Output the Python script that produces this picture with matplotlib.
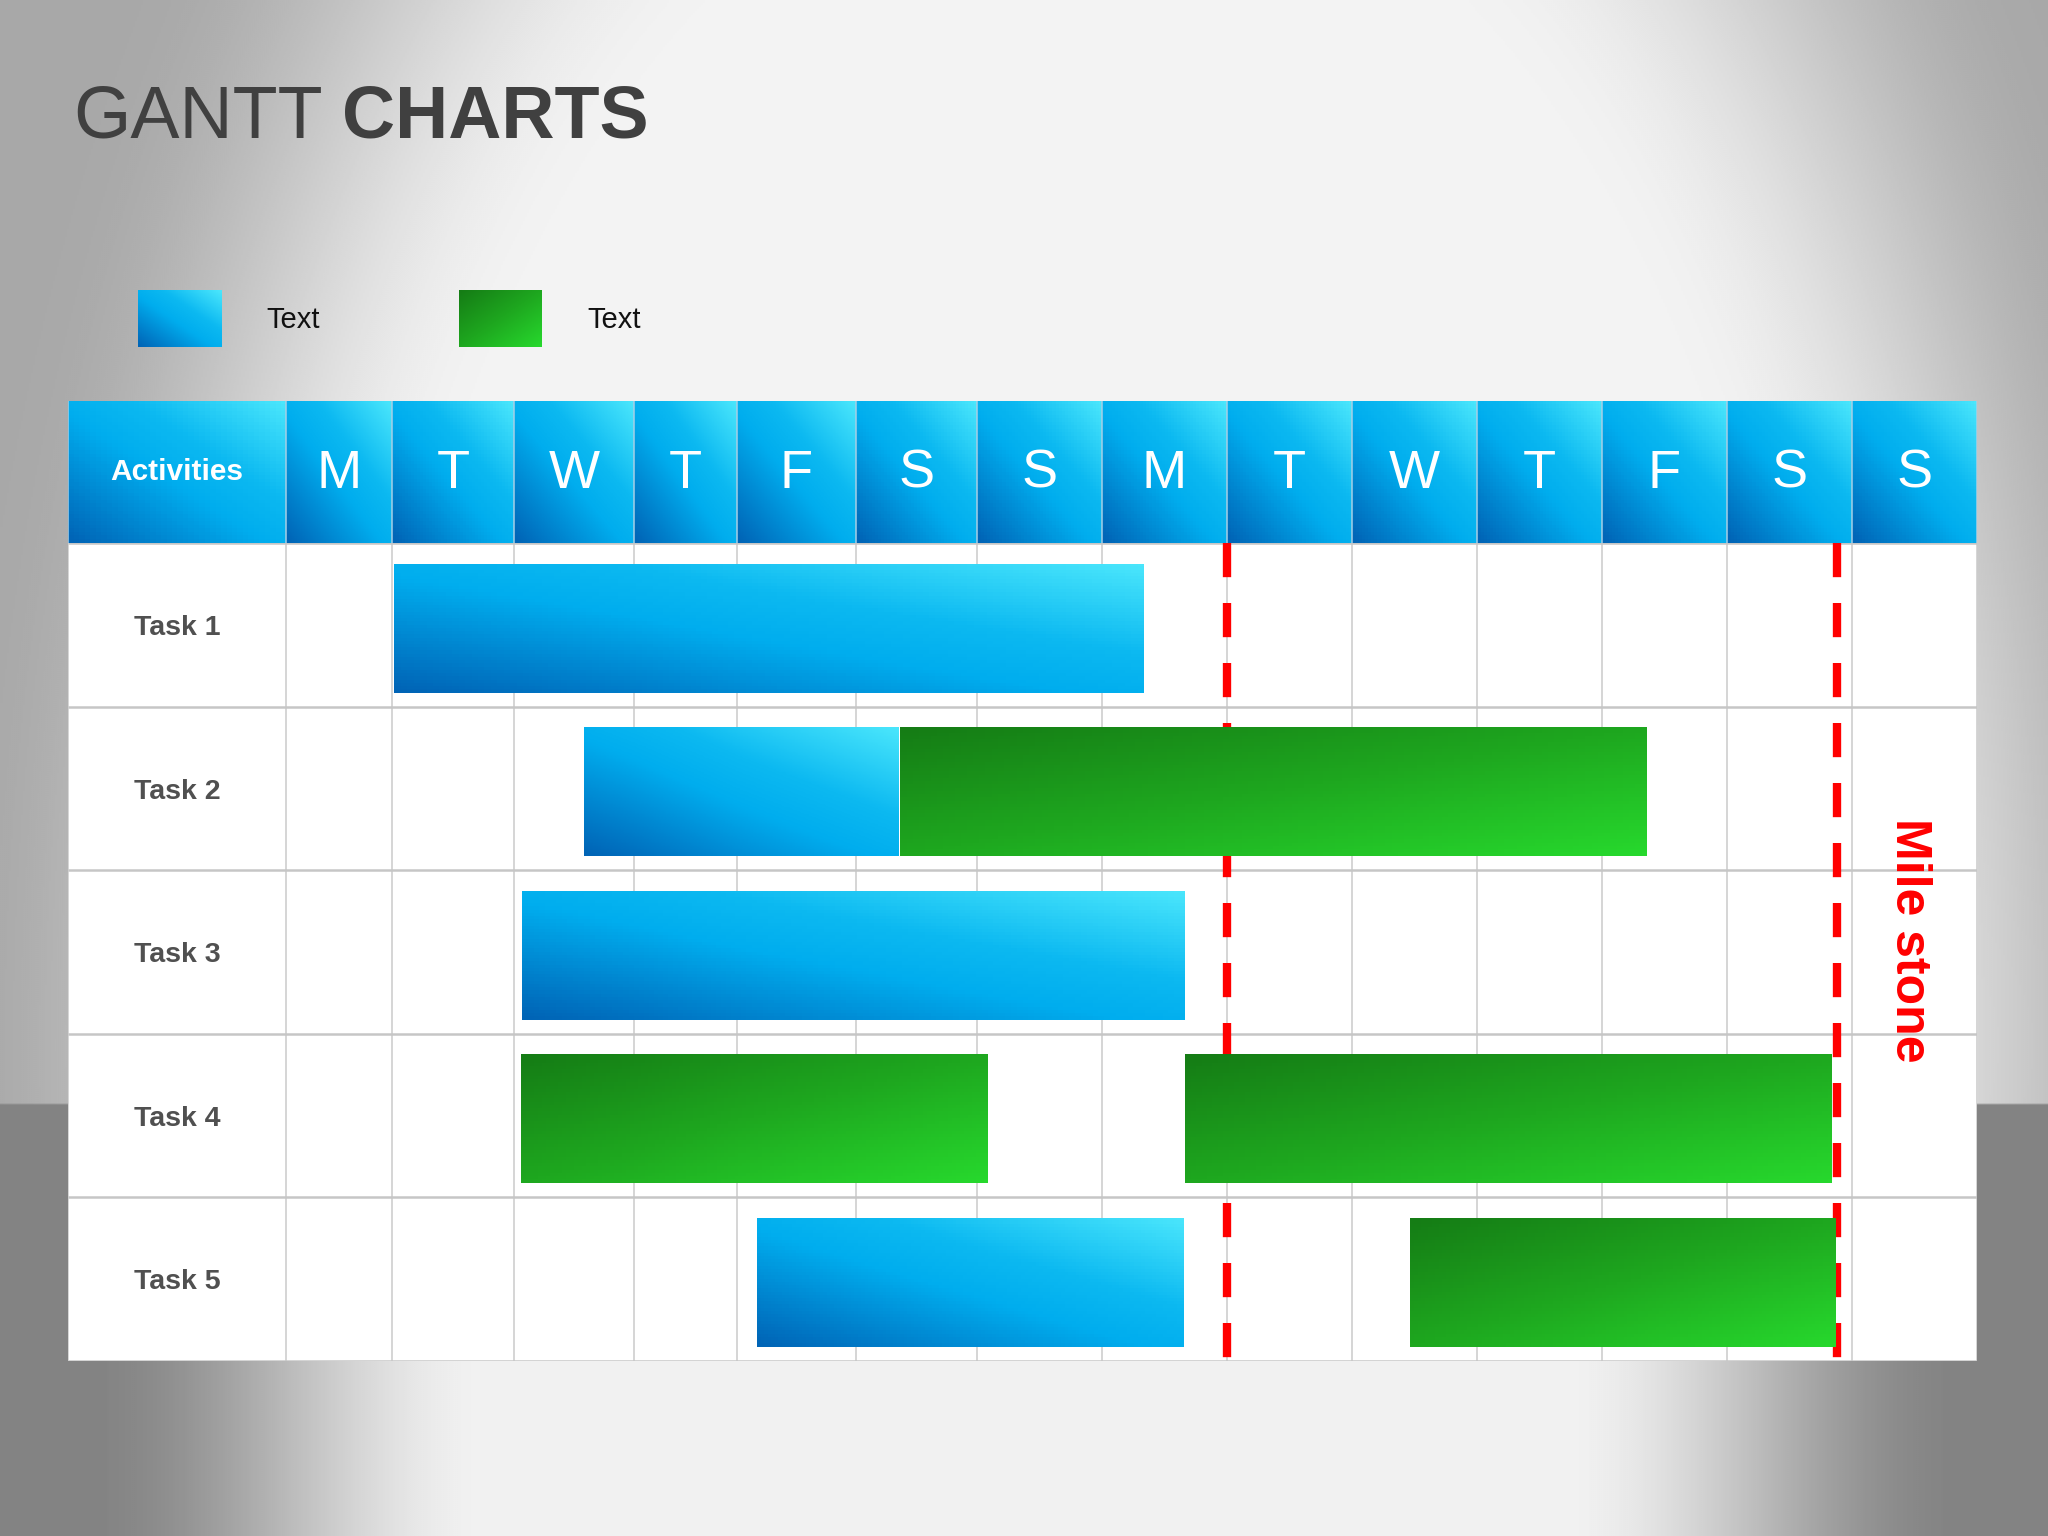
import numpy as np
import matplotlib
matplotlib.use('Agg')
import matplotlib.pyplot as plt
from matplotlib import font_manager
from matplotlib.colors import LinearSegmentedColormap

# ---- data ----
days = ['M', 'T', 'W', 'T', 'F', 'S', 'S', 'M', 'T', 'W', 'T', 'F', 'S', 'S']
tasks = ['Task 1', 'Task 2', 'Task 3', 'Task 4', 'Task 5']
blue_task = [0, 1, 2, 4]
blue_start = [1.02, 2.58, 2.07, 4.17]
blue_end = [7.34, 5.36, 7.67, 7.66]
green_task = [1, 3, 3, 4]
green_start = [5.36, 2.06, 7.66, 9.46]
green_end = [11.36, 6.09, 12.84, 12.87]
milestones = [8.0, 12.88]
legend_labels = ['Text', 'Text']

# ---- layout (pixels of the 2048x1536 slide) ----
W, H = 2048, 1536
col_px = [68, 286, 392, 514, 634, 737, 856, 977, 1102, 1227, 1352, 1477, 1602, 1727, 1852, 1977]
col_x = np.arange(-1, len(days) + 1)          # data position of each column edge
top_px, head_px, bot_px = 401, 543, 1361
row_h = (bot_px - head_px) / len(tasks)
head_h = (head_px - top_px) / row_h

names = {f.name for f in font_manager.fontManager.ttflist}
SANS = 'Liberation Sans'
NARROW = 'Liberation Sans Narrow' if 'Liberation Sans Narrow' in names else SANS
narrow = NARROW != SANS
# font sizes (narrow face, regular fallback)
fs_day = 43 if narrow else 39
fs_act = 26 if narrow else 21.5
fs_task = 23 if narrow else 20.5
fs_mile = 44 if narrow else 36

blue_cm = LinearSegmentedColormap.from_list(
    'blue', [(0, '#0064b6'), (0.45, '#00adee'), (0.65, '#0cb9f1'), (1, '#4ae6fc')])
green_cm = LinearSegmentedColormap.from_list(
    'green', [(0, '#157c15'), (0.5, '#1ea71f'), (1, '#27d82d')])


def grad(kind, nx=120, ny=40):
    u = np.linspace(0, 1, nx)[None, :]
    v = np.linspace(0, 1, ny)[:, None]          # row 0 = bottom
    return (u + v) / 2 if kind == 'blue' else (u + (1 - v)) / 2


def smooth(t):
    t = np.clip(t, 0, 1)
    return t * t * (3 - 2 * t)


fig = plt.figure(figsize=(W / 100, H / 100), dpi=100)

# ---- background slide ----
bg = fig.add_axes([0, 0, 1, 1])
bg.set_xlim(0, W); bg.set_ylim(H, 0); bg.axis('off')
ys, xs = np.mgrid[0:H:2, 0:W:2]
xn, yn = xs / W, ys / H
r = np.hypot((xn - 0.53) / 0.41, (yn - 0.68) / 0.925)
wall = 0.95 - 0.29 * smooth((r - 0.85) / 0.5)
floor = 0.945 - 0.43 * smooth((np.abs(xn - 0.5) / 0.5 - 0.52) / 0.4)
bg.imshow(np.where(yn < 1103 / H, wall, floor), cmap='gray', vmin=0, vmax=1,
          extent=(0, W, H, 0), aspect='auto', interpolation='bilinear')

# title
t1 = bg.text(73, 138, 'GANTT', fontsize=53, color='#404040', family=SANS, va='baseline')
bg.annotate('CHARTS', xy=(1, 0), xycoords=t1, xytext=(14, 0), textcoords='offset points',
            fontsize=53, color='#404040', family=SANS, fontweight='bold', va='bottom')

# legend
for (x0, x1), kind, lab, tx in zip([(138, 222), (459, 542)], ['blue', 'green'],
                                   legend_labels, [266, 587]):
    bg.imshow(grad(kind, 40, 40), cmap=blue_cm if kind == 'blue' else green_cm,
              extent=(x0, x1, 347, 290), origin='lower', aspect='auto', zorder=2)
    bg.text(tx, 320, lab, fontsize=21, color='#111111', family=SANS, va='center')
bg.set_xlim(0, W); bg.set_ylim(H, 0)

# ---- table ----
ax = fig.add_axes([col_px[0] / W, 1 - bot_px / H, (col_px[-1] - col_px[0]) / W,
                   (bot_px - top_px) / H])
ax.set_xscale('function', functions=(lambda x: np.interp(x, col_x, col_px),
                                      lambda p: np.interp(p, col_px, col_x)))
ax.set_facecolor('white')
for s in ax.spines.values():
    s.set_visible(False)
ax.set_xticks([]); ax.set_yticks([])

# grid
ax.vlines(col_x, 0, len(tasks), colors='#cacaca', lw=1.1, zorder=1)
ax.hlines(np.arange(len(tasks) + 1), col_x[0], col_x[-1], colors='#c6c6c6', lw=1.8, zorder=1)

# header cells
for i in range(len(col_x) - 1):
    ax.imshow(grad('blue', 40, 40), cmap=blue_cm, origin='lower', aspect='auto',
              extent=(col_x[i], col_x[i + 1], 0, -head_h), zorder=2)
ax.vlines(col_x, -head_h, 0, colors='#a6cfe6', lw=1.1, zorder=2.5)
ax.text(-0.5, -head_h / 2, 'Activities', color='white', fontsize=fs_act, family=NARROW,
        fontweight='bold', ha='center', va='center', zorder=5)
for i, dname in enumerate(days):
    ax.text(i + 0.5, -head_h / 2 + 0.01, dname, color='white', fontsize=fs_day, family=NARROW,
            ha='center', va='center', zorder=5)

# task labels
for i, name in enumerate(tasks):
    ax.text(-0.5, i + 0.52, name, color='#505050', fontsize=fs_task, family=NARROW,
            fontweight='bold', ha='center', va='center', zorder=5)

# milestones (behind bars)
ax.vlines(milestones, 0, len(tasks), colors='#ff0000', lw=6, zorder=3,
          linestyles=[(0, (4.1, 3.1))])
ax.text(13.46, 2.43, 'Mile stone', color='#ff0000', fontsize=fs_mile, family=NARROW,
        fontweight='bold', rotation=-90, ha='center', va='center', zorder=5)

# bars with gradient fill
for kind, tk, st, en, cm in [('blue', blue_task, blue_start, blue_end, blue_cm),
                             ('green', green_task, green_start, green_end, green_cm)]:
    bars = ax.barh([i + 0.52 for i in tk], np.subtract(en, st), left=st, height=0.79,
                   color='none', lw=0, zorder=4)
    for p in bars.patches:
        x0, w, y0, h = p.get_x(), p.get_width(), p.get_y(), p.get_height()
        im = ax.imshow(grad(kind), cmap=cm, origin='lower', aspect='auto',
                       extent=(x0, x0 + w, y0 + h, y0), zorder=4)
        im.set_clip_path(p)

ax.set_xlim(col_x[0], col_x[-1])
ax.set_ylim(len(tasks), -head_h)

fig.savefig('out.png', dpi=100)
